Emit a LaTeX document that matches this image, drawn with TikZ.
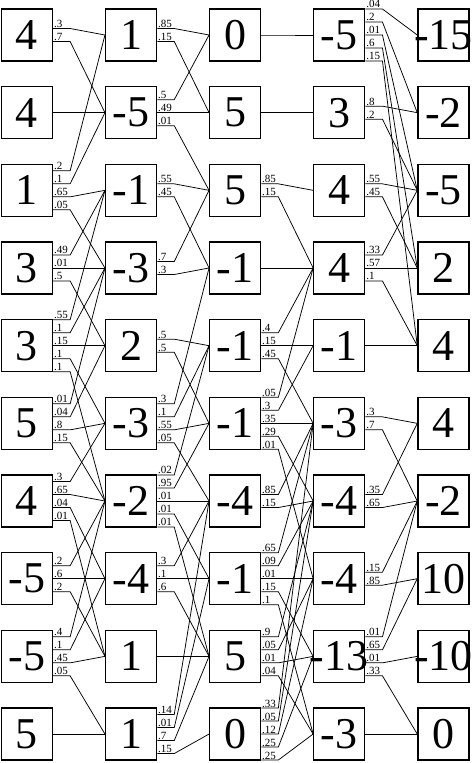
\documentclass[tikz,border=0pt]{standalone}
\usepackage{fontspec}
\setmainfont{Liberation Serif}
\usepackage{tikz}
\usetikzlibrary{calc}

\begin{document}
\begin{tikzpicture}[x=1pt,y=-1pt,
    cell/.style={draw,line width=1.3pt,minimum width=51pt,minimum height=52pt,inner sep=0pt,font=\fontsize{44}{44}\selectfont},
    prob/.style={anchor=south west,inner sep=0.5pt,font=\fontsize{11}{11}\selectfont},
    link/.style={line width=0.75pt}]
    \useasboundingbox (0,0) rectangle (474,763);
    \foreach \col/\vals [count=\c] in {A/{4,4,1,3,3,5,4,-5,-5,5},B/{1,-5,-1,-3,2,-3,-2,-4,1,1},C/{0,5,5,-1,-1,-1,-4,-1,5,0},D/{-5,3,4,4,-1,-3,-4,-4,-13,-3},E/{-15,-2,-5,2,4,4,-2,10,-10,0}} {
     \foreach \val [count=\r] in \vals {
      \node[cell] (\col\r) at ({27+104.1*(\c-1)},{35+77.67*(\r-1)}) {\makebox[0pt]{\val}};
     }
    }
    \foreach \from/\to/\edges in {
      A/B/{1/2/{1/.3,2/.7},2/1/{2/},3/4/{1/.2,2/.1,3/.65,4/.05},4/3/{3/.49,4/.01,5/.5},5/5/{3/.55,4/.1,5/.15,6/.1,7/.1},6/4/{4/.01,5/.04,6/.8,7/.15},7/4/{6/.3,7/.65,8/.04,9/.01},8/3/{7/.2,8/.6,9/.2},9/4/{7/.4,8/.1,9/.45,10/.05},10/1/{10/}},
      B/C/{1/2/{1/.85,2/.15},2/3/{1/.5,2/.49,3/.01},3/2/{3/.55,4/.45},4/2/{3/.7,4/.3},5/2/{5/.5,6/.5},6/4/{4/.3,5/.1,6/.55,7/.05},7/5/{5/.02,6/.95,7/.01,8/.01,9/.01},8/3/{7/.3,8/.1,9/.6},9/1/{9/},10/4/{7/.14,8/.01,9/.7,10/.15}},
      C/D/{1/1/{1/},2/1/{2/},3/2/{3/.85,4/.15},4/1/{4/},5/3/{4/.4,5/.15,6/.45},6/5/{4/.05,5/.3,6/.35,7/.29,8/.01},7/2/{6/.85,7/.15},8/5/{6/.65,7/.09,8/.01,9/.15,10/.1},9/4/{7/.9,8/.05,9/.01,10/.04},10/5/{6/.33,7/.05,8/.12,9/.25,10/.25}},
      D/E/{1/5/{1/.04,2/.2,3/.01,4/.6,5/.15},2/2/{2/.8,3/.2},3/2/{3/.55,4/.45},4/3/{3/.33,4/.57,5/.1},5/1/{5/},6/2/{6/.3,7/.7},7/2/{6/.35,7/.65},8/2/{7/.15,8/.85},9/4/{7/.01,8/.65,9/.01,10/.33},10/1/{10/}}} {
     \foreach \s/\n/\outs in \edges {
      \foreach \t/\p [count=\i] in \outs {
       \pgfmathsetmacro\dy{(\i-(\n+1)/2)*13}
       \draw[link] ($(\from\s.east)+(0,\dy)$) node[prob]{\p} -- ++(17,0) -- (\to\t.west);
      }
     }
    }
\end{tikzpicture}
\end{document}
